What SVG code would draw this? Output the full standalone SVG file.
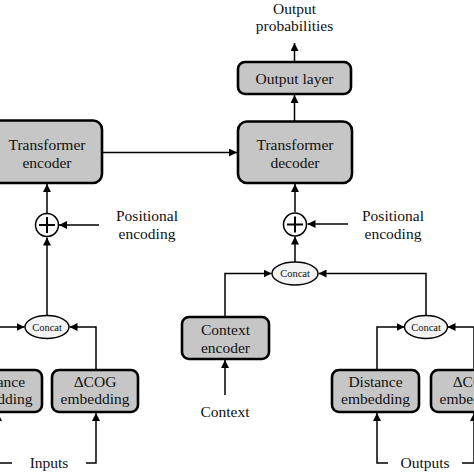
<svg xmlns="http://www.w3.org/2000/svg" width="474" height="474" viewBox="0 0 474 474">
<defs>
<marker id="ah" viewBox="0 0 10 10" refX="10" refY="5" markerWidth="8" markerHeight="8" markerUnits="userSpaceOnUse" orient="auto">
<path d="M0,0 L10,5 L0,10 z" fill="#000"/>
</marker>
<style>
.box{fill:#c6c6c6;stroke:#000;stroke-width:2.6}
.ell{fill:#f4f4f4;stroke:#000;stroke-width:1.4}
.cir{fill:#fff;stroke:#000;stroke-width:1.5}
.ln{fill:none;stroke:#000;stroke-width:1.5}
.ar{fill:none;stroke:#000;stroke-width:1.5;marker-end:url(#ah)}
text{font-family:"Liberation Serif","Times New Roman",serif;font-size:15.5px;fill:#111;text-anchor:middle}
.sm{font-size:10.5px}
</style>
</defs>
<rect width="474" height="474" fill="#fff"/>
<g id="connectors">
<path class="ar" d="M294.5,62 V43"/>
<path class="ar" d="M294.5,122 V95"/>
<path class="ar" d="M102,152.5 H237"/>
<path class="ar" d="M47,213 V184"/>
<path class="ar" d="M295,212 V184"/>
<path class="ar" d="M99,225 H59"/>
<path class="ar" d="M348,224 H307.5"/>
<path class="ar" d="M47,315 V237.5"/>
<path class="ar" d="M295,262 V236.5"/>
<path class="ar" d="M-2,370 V327 H24.5"/>
<path class="ar" d="M96,370 V327 H69.5"/>
<path class="ar" d="M225,317 V273.5 H271.5"/>
<path class="ar" d="M426,315 V273.5 H318.5"/>
<path class="ar" d="M377,370 V327 H404.5"/>
<path class="ar" d="M474,370 V327 H447.5"/>
<path class="ar" d="M12,463 H-2 V413"/>
<path class="ar" d="M86,463 H96 V413"/>
<path class="ar" d="M225,395 V360"/>
<path class="ar" d="M388,463 H377 V413"/>
<path class="ar" d="M462,463 H474 V413"/>
</g>
<g id="output-probabilities"><text x="294.5" y="14">Output</text><text x="294.5" y="31">probabilities</text></g>
<g id="output-layer"><rect class="box" x="238" y="62" width="113" height="32" rx="7"/><text x="294.5" y="84">Output layer</text></g>
<g id="transformer-encoder"><rect class="box" x="-10" y="120.5" width="112" height="62.5" rx="9"/><text x="47" y="150">Transformer</text><text x="47" y="168">encoder</text></g>
<g id="transformer-decoder"><rect class="box" x="238" y="121.5" width="114" height="61.5" rx="9"/><text x="295" y="150">Transformer</text><text x="295" y="168">decoder</text></g>
<g id="add-left"><circle class="cir" cx="47" cy="225" r="11.5"/><path class="ln" d="M39,225 H55 M47,217 V233" style="stroke-width:2"/></g>
<g id="add-right"><circle class="cir" cx="295" cy="224.5" r="11.5"/><path class="ln" d="M287,224.5 H303 M295,216.5 V232.5" style="stroke-width:2"/></g>
<g id="pos-enc-left"><text x="147" y="221">Positional</text><text x="147" y="239">encoding</text></g>
<g id="pos-enc-right"><text x="393" y="221">Positional</text><text x="393" y="239">encoding</text></g>
<g id="concat-left"><ellipse class="ell" cx="47" cy="327" rx="22" ry="11.5"/><text class="sm" x="47" y="330.5">Concat</text></g>
<g id="concat-top"><ellipse class="ell" cx="295" cy="273.5" rx="23" ry="11.5"/><text class="sm" x="295" y="277">Concat</text></g>
<g id="concat-right"><ellipse class="ell" cx="426" cy="327" rx="21.5" ry="11.5"/><text class="sm" x="426" y="330.5">Concat</text></g>
<g id="distance-left"><rect class="box" x="-45" y="370" width="87" height="42" rx="7"/><text x="-2" y="386.5">Distance</text><text x="-2" y="404">embedding</text></g>
<g id="dcog-left"><rect class="box" x="52" y="370" width="86" height="42" rx="7"/><text x="95" y="386.5">ΔCOG</text><text x="95" y="404">embedding</text></g>
<g id="context-encoder"><rect class="box" x="182" y="317" width="87" height="42" rx="7"/><text x="225.5" y="334.5">Context</text><text x="225.5" y="352.5">encoder</text></g>
<g id="distance-right"><rect class="box" x="332" y="370" width="87" height="42" rx="7"/><text x="375.5" y="386.5">Distance</text><text x="375.5" y="404">embedding</text></g>
<g id="dcog-right"><rect class="box" x="431" y="370" width="86" height="42" rx="7"/><text x="474" y="386.5">ΔCOG</text><text x="474" y="404">embedding</text></g>
<g id="inputs"><text x="49" y="468">Inputs</text></g>
<g id="context"><text x="225" y="417">Context</text></g>
<g id="outputs"><text x="425" y="468">Outputs</text></g>
</svg>
